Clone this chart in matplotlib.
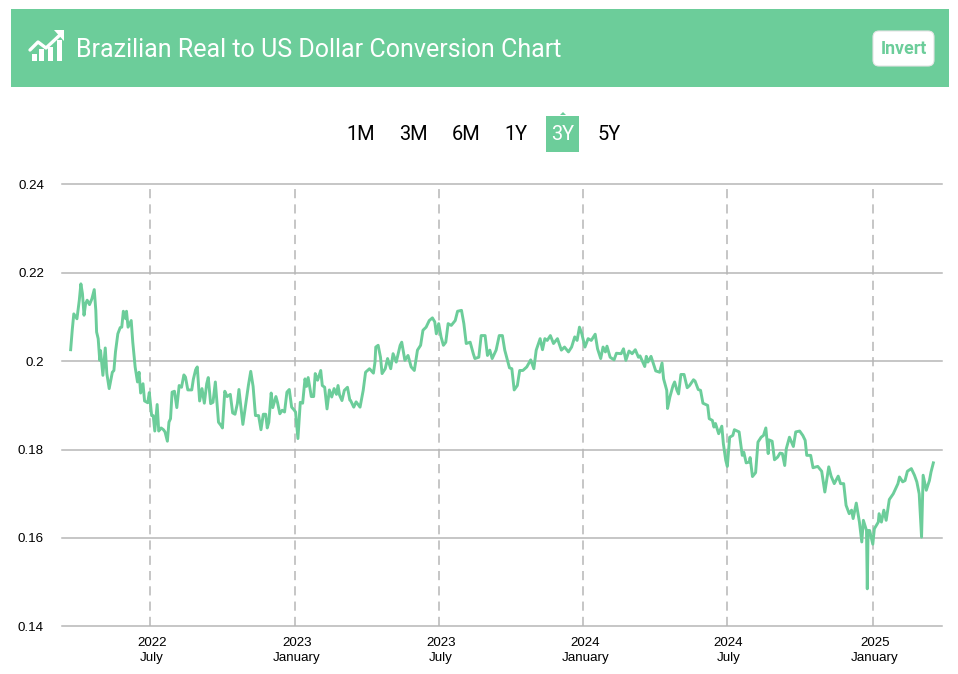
import matplotlib
matplotlib.use("Agg")
import matplotlib.pyplot as plt
from matplotlib.patches import FancyBboxPatch, Polygon, Rectangle
from matplotlib.transforms import ScaledTranslation

GREEN = "#6ccd9a"
GRID = "#b7b7b7"

# position along the chart (days from the first point) and rate
day_1 = [1, 3, 5, 9, 12, 14, 16, 18, 20, 22, 25, 28, 31, 33, 34, 36, 38, 39, 42, 45, 47, 50, 54, 56, 58, 61, 64, 66, 68, 71,
         72, 74, 78, 80, 83, 86, 88, 90, 93, 95, 99, 101, 104, 106, 108, 111, 113, 116, 119, 121, 124, 126, 128, 130, 133,
         136, 139, 142, 145, 147, 150, 155, 157, 160, 162, 165, 168, 171, 174, 176, 179, 182, 185, 189, 192, 194, 197, 200,
         204, 207, 210, 213, 215, 220, 225, 227, 230, 233, 236, 240, 243, 246, 249, 251, 253, 256, 258, 262, 264, 267, 270,
         273, 276, 279, 282, 285, 287, 290, 293, 296, 299, 301, 303, 307, 310, 312, 315, 319, 321, 324, 327, 330, 333, 336,
         339, 341, 343, 346, 349, 353, 356]
rate_1 = [.2026, .2070, .2107, .2096, .2138, .2175, .2153, .2104, .2130, .2138, .2128, .2141, .2162, .2115, .2066, .2051,
          .2002, .2024, .1968, .2030, .1972, .1938, .1975, .1979, .2021, .2062, .2076, .2077, .2113, .2096, .2113, .2077,
          .2092, .2043, .1987, .1953, .1975, .1928, .1949, .1910, .1906, .1929, .1877, .1877, .1842, .1902, .1842, .1849,
          .1845, .1840, .1819, .1862, .1870, .1930, .1932, .1895, .1945, .1941, .1969, .1964, .1935, .1935, .1959, .1981,
          .1987, .1910, .1938, .1905, .1949, .1963, .1904, .1907, .1953, .1862, .1855, .1849, .1932, .1920, .1925, .1883,
          .1880, .1904, .1936, .1857, .1919, .1945, .1977, .1943, .1877, .1877, .1845, .1880, .1880, .1849, .1862, .1928,
          .1895, .1920, .1907, .1881, .1889, .1885, .1930, .1936, .1896, .1890, .1885, .1825, .1907, .1905, .1960, .1943,
          .1963, .1920, .1920, .1972, .1957, .1979, .1945, .1941, .1892, .1935, .1919, .1938, .1925, .1945, .1923, .1911,
          .1934, .1941, .1912]
day_2 = [357, 361, 364, 369, 373, 376, 381, 386, 388, 389, 392, 395, 397, 401, 404, 408, 411, 415, 420, 422, 426, 430, 434,
         438, 442, 446, 449, 453, 457, 461, 464, 466, 469, 472, 475, 478, 481, 485, 490, 493, 498, 501, 504, 509, 513, 515,
         520, 523, 528, 531, 534, 537, 542, 546, 550, 553, 557, 559, 562, 565, 569, 572, 576, 581, 586, 590, 593, 598, 601,
         604, 607, 611, 615, 620, 625, 629, 634, 638, 642, 645, 648, 651, 655, 659, 663, 668, 671, 675, 678, 681, 683, 687,
         692, 695, 701, 704, 707, 711, 715, 719, 723]
rate_2 = [.1911, .1896, .1908, .1896, .1934, .1975, .1983, .1973, .1998, .2032, .2036, .2009, .1972, .1983, .2006, .1983,
          .2017, .1998, .2036, .2043, .2002, .2013, .1987, .1979, .2025, .2036, .2070, .2077, .2092, .2098, .2089, .2062,
          .2085, .2055, .2036, .2043, .2085, .2081, .2092, .2113, .2115, .2085, .2040, .2043, .2017, .2006, .2009, .2058,
          .2058, .2013, .2025, .2006, .2025, .2058, .2058, .2025, .1998, .1985, .1983, .1935, .1945, .1979, .1979, .1987,
          .2003, .1983, .2025, .2051, .2026, .2051, .2047, .2058, .2040, .2051, .2025, .2032, .2021, .2032, .2055, .2047,
          .2077, .2062, .2032, .2051, .2047, .2061, .2028, .2006, .2032, .2021, .2034, .2009, .2003, .2018, .2017, .2028,
          .2002, .2023, .2017, .2026, .2009]
day_3 = [725, 731, 733, 735, 739, 745, 750, 753, 755, 759, 760, 763, 767, 769, 772, 774, 777, 781, 785, 788, 793, 795, 799,
         802, 805, 811, 813, 817, 819, 821, 825, 829, 831, 834, 836, 839, 843, 845, 851, 855, 857, 860, 864, 865, 868, 872,
         875, 879, 882, 885, 888, 889, 893, 896, 900, 903, 906, 909, 911, 915, 920, 923, 928, 932, 935, 937, 942, 945, 951,
         956, 960, 965, 968, 972, 977, 980, 984, 987, 991, 994, 996, 1000, 1004, 1007, 1009, 1013, 1014, 1015, 1017, 1021,
         1023, 1028, 1029, 1032, 1035, 1038, 1042, 1047, 1053, 1055, 1059, 1062, 1065, 1070, 1074, 1077, 1080, 1083, 1085,
         1089, 1093, 1095, 1098]
rate_3 = [.2012, .1988, .2011, .1998, .2011, .1978, .1975, .1996, .1960, .1934, .1893, .1919, .1945, .1953, .1934, .1926,
          .1970, .1970, .1940, .1945, .1958, .1955, .1936, .1934, .1905, .1900, .1870, .1866, .1851, .1859, .1836, .1853,
          .1813, .1776, .1762, .1828, .1832, .1845, .1840, .1787, .1794, .1770, .1772, .1782, .1739, .1748, .1817, .1828,
          .1832, .1849, .1791, .1822, .1819, .1777, .1783, .1792, .1791, .1764, .1802, .1828, .1807, .1840, .1842, .1832,
          .1821, .1787, .1787, .1759, .1762, .1751, .1704, .1761, .1740, .1723, .1740, .1723, .1723, .1674, .1655, .1663,
          .1644, .1679, .1636, .1591, .1640, .1617, .1485, .1617, .1617, .1586, .1621, .1636, .1655, .1636, .1663, .1640,
          .1687, .1700, .1723, .1738, .1727, .1730, .1751, .1757, .1742, .1727, .1700, .1602, .1742, .1708, .1730, .1749,
          .1770]

x_ticks = [102, 286, 469, 653, 835, 1021]
x_labels = ["2022\nJuly", "2023\nJanuary", "2023\nJuly", "2024\nJanuary", "2024\nJuly", "2025\nJanuary"]
y_ticks = [0.14, 0.16, 0.18, 0.2, 0.22, 0.24]
y_labels = ["0.14", "0.16", "0.18", "0.2", "0.22", "0.24"]
ranges = ["1M", "3M", "6M", "1Y", "3Y", "5Y"]
range_x = [361, 413, 466, 516, 563, 609.5]

W, H = 958, 674
fig = plt.figure(figsize=(W / 100, H / 100), dpi=100, facecolor="white")

# page furniture, in pixel coordinates
page = fig.add_axes([0, 0, 1, 1])
page.set_xlim(0, W)
page.set_ylim(H, 0)
page.axis("off")
page.add_patch(Rectangle((11, 9), 938, 78, color=GREEN, lw=0))
page.text(76, 50, "Brazilian Real to US Dollar Conversion Chart", color="white", fontsize=18,
          family="Roboto", va="center", ha="left")
page.add_patch(FancyBboxPatch((877, 35), 53, 27, boxstyle="round,pad=4,rounding_size=6",
                              fc="white", ec="#e4e4e4", lw=0.8))
page.text(903.5, 49, "Invert", color=GREEN, fontsize=12.8, family="Roboto", weight="bold",
          va="center", ha="center")

# header icon
for x0, x1, top in [(32, 37, 54), (39, 44, 49), (48, 53, 47), (57, 62, 40)]:
    page.add_patch(Rectangle((x0, top), x1 - x0, 60.5 - top, color="white", lw=0))
page.plot([30, 38, 46, 61], [50, 42, 48, 34], color="white", lw=2.4, solid_capstyle="round")
page.add_patch(Polygon([[54, 30], [64.5, 30], [64.5, 40.5]], color="white", lw=0))

# range buttons
page.add_patch(Rectangle((546, 116), 33, 36, color=GREEN, lw=0))
page.add_patch(Polygon([[560, 115], [563, 112], [566, 115]], color=GREEN, lw=0))
for label, bx in zip(ranges, range_x):
    page.text(bx, 134, label, fontsize=14.4, family="Roboto", va="center", ha="center",
              color="white" if label == "3Y" else "black")

# chart
ax = fig.add_axes([62 / W, 1 - 626.4 / H, 880 / W, 442 / H])
ax.patch.set_alpha(0)
ax.set_xlim(-10, 1109)
ax.set_ylim(0.14, 0.24)
for spine in ax.spines.values():
    spine.set_visible(False)
ax.set_yticks(y_ticks, y_labels, family="Liberation Sans", fontsize=9.6)
ax.set_xticks(x_ticks, x_labels, family="Liberation Sans", fontsize=9.6, linespacing=1.3)
ax.tick_params(length=0)
ax.tick_params(axis="y", pad=13)
ax.tick_params(axis="x", pad=7.5)
# labels sit a little right of their gridlines
shift = ScaledTranslation(1.5 / 72, 0, fig.dpi_scale_trans)
for lab in ax.get_xticklabels():
    lab.set_transform(lab.get_transform() + shift)
ax.grid(axis="y", color=GRID, lw=1.1, clip_on=False)
ax.grid(axis="x", color=GRID, lw=1.1, linestyle=(0, (6, 4)))
ax.set_axisbelow(True)
ax.plot(day_1 + day_2 + day_3, rate_1 + rate_2 + rate_3, color=GREEN, lw=2.1, solid_joinstyle="round")

fig.savefig("out.png", dpi=100)
